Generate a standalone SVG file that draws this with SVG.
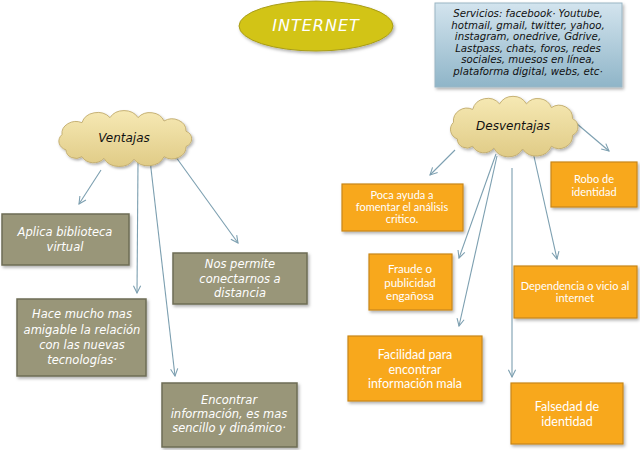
<svg xmlns="http://www.w3.org/2000/svg" width="640" height="450" viewBox="0 0 640 450">
<defs>
<style>
.hand{font-family:"DejaVu Sans","Liberation Sans",sans-serif;font-style:italic;text-anchor:middle}
.gtxt{fill:#ffffff;font-size:11.5px}
.otxt{font-family:Lato,"Liberation Sans",sans-serif;fill:#ffffff;text-anchor:middle}
.gbox{fill:#999679;stroke:#6e6c55;stroke-width:1.5}
.obox{fill:#f8a81e;stroke:#c9861a;stroke-width:1.2}
.conn{stroke:#7c9fb0;stroke-width:1.1;fill:none;marker-end:url(#arr)}
.cloud{fill:url(#cg);stroke:#c2ad6e;stroke-width:1}
</style>
<marker id="arr" viewBox="0 0 10 10" refX="9" refY="5" markerWidth="9" markerHeight="9" orient="auto" markerUnits="userSpaceOnUse">
<path d="M1,1 L9,5 L1,9" fill="none" stroke="#7c9fb0" stroke-width="1.2"/>
</marker>
<linearGradient id="cg" x1="0" y1="0" x2="0" y2="1">
<stop offset="0" stop-color="#f6e9b4"/>
<stop offset="1" stop-color="#e0cb86"/>
</linearGradient>
<linearGradient id="sg" x1="0" y1="0" x2="0" y2="1">
<stop offset="0" stop-color="#d3e4ee"/>
<stop offset="1" stop-color="#8fb5c8"/>
</linearGradient>
<filter id="sh" x="-10%" y="-10%" width="130%" height="130%">
<feDropShadow dx="1.5" dy="2" stdDeviation="1.5" flood-color="#000" flood-opacity="0.3"/>
</filter>
<path id="cloudp" d="M-58,14 A11,11 0 0 1 -62,-4 A14,14 0 0 1 -42,-18 A16,16 0 0 1 -14,-24 A16,16 0 0 1 14,-24 A15,15 0 0 1 40,-20 A14,14 0 0 1 62,-8 A10,10 0 0 1 62,10 A14,14 0 0 1 40,22 A17,17 0 0 1 10,25 A17,17 0 0 1 -20,24 A13,13 0 0 1 -42,22 A10,10 0 0 1 -58,14 Z"/>
</defs>
<rect width="640" height="450" fill="#ffffff"/>

<g id="connectors">
<line class="conn" x1="101" y1="170" x2="79" y2="204"/>
<line class="conn" x1="138" y1="162" x2="137" y2="293"/>
<line class="conn" x1="150" y1="160" x2="175" y2="376"/>
<line class="conn" x1="173" y1="153" x2="238" y2="243"/>
<line class="conn" x1="455" y1="150" x2="430" y2="175"/>
<line class="conn" x1="496" y1="154" x2="459" y2="258"/>
<line class="conn" x1="497" y1="156" x2="459" y2="326"/>
<line class="conn" x1="512" y1="168" x2="512" y2="377"/>
<line class="conn" x1="533" y1="152" x2="557" y2="259"/>
<line class="conn" x1="576" y1="123" x2="609" y2="151"/>
</g>

<g id="internet">
<ellipse cx="316" cy="26" rx="77" ry="25" fill="#d2c413" stroke="#a89c18" stroke-width="1" filter="url(#sh)"/>
<text class="hand" x="316" y="31" fill="#ffffff" font-size="16" letter-spacing="1">INTERNET</text>
</g>

<g id="servicios">
<rect x="435" y="3" width="187" height="84" fill="url(#sg)" stroke="#9ab6c4" stroke-width="1" filter="url(#sh)"/>
<g class="hand" fill="#111111" font-size="10.2">
<text x="528" y="17">Servicios: facebook· Youtube,</text>
<text x="528" y="29">hotmail, gmail, twitter, yahoo,</text>
<text x="528" y="40">instagram, onedrive, Gdrive,</text>
<text x="528" y="51.5">Lastpass, chats, foros, redes</text>
<text x="528" y="63">sociales, muesos en línea,</text>
<text x="528" y="75">plataforma digital,  webs, etc·</text>
</g>
</g>

<g id="ventajas">
<use href="#cloudp" class="cloud" transform="translate(124,138) scale(1,0.85)" vector-effect="non-scaling-stroke" filter="url(#sh)"/>
<text class="hand" x="124" y="142" fill="#111111" font-size="12">Ventajas</text>
</g>

<g id="desventajas">
<use href="#cloudp" class="cloud" transform="translate(513,126) scale(0.96,0.92)" filter="url(#sh)"/>
<text class="hand" x="513" y="130" fill="#111111" font-size="12">Desventajas</text>
</g>

<g id="aplica">
<rect class="gbox" x="2" y="214" width="127" height="51" filter="url(#sh)"/>
<text class="hand gtxt" x="65" y="236">Aplica biblioteca</text>
<text class="hand gtxt" x="65" y="251">virtual</text>
</g>

<g id="nos-permite">
<rect class="gbox" x="173" y="253" width="134" height="51" filter="url(#sh)"/>
<text class="hand gtxt" x="240" y="268">Nos permite</text>
<text class="hand gtxt" x="240" y="283">conectarnos a</text>
<text class="hand gtxt" x="240" y="297">distancia</text>
</g>

<g id="hace-mucho">
<rect class="gbox" x="17" y="299" width="129" height="77" filter="url(#sh)"/>
<text class="hand gtxt" x="82" y="318">Hace mucho mas</text>
<text class="hand gtxt" x="82" y="334">amigable la relación</text>
<text class="hand gtxt" x="82" y="349">con las nuevas</text>
<text class="hand gtxt" x="82" y="364">tecnologías·</text>
</g>

<g id="encontrar">
<rect class="gbox" x="162" y="383" width="135" height="64" filter="url(#sh)"/>
<text class="hand gtxt" x="229" y="404">Encontrar</text>
<text class="hand gtxt" x="229" y="418">información, es mas</text>
<text class="hand gtxt" x="229" y="432">sencillo y dinámico·</text>
</g>

<g id="poca-ayuda">
<rect class="obox" x="342" y="184" width="121" height="47" filter="url(#sh)"/>
<text class="otxt" x="402" y="199" font-size="11">Poca ayuda a</text>
<text class="otxt" x="402" y="211" font-size="11">fomentar el análisis</text>
<text class="otxt" x="402" y="223" font-size="11">critico.</text>
</g>

<g id="fraude">
<rect class="obox" x="369" y="254" width="83" height="56" filter="url(#sh)"/>
<text class="otxt" x="410" y="273" font-size="11.5">Fraude o</text>
<text class="otxt" x="410" y="287" font-size="11.5">publicidad</text>
<text class="otxt" x="410" y="300" font-size="11.5">engañosa</text>
</g>

<g id="facilidad">
<rect class="obox" x="348" y="336" width="134" height="65" filter="url(#sh)"/>
<text class="otxt" x="415" y="359" font-size="12.5">Facilidad para</text>
<text class="otxt" x="415" y="374" font-size="12.5">encontrar</text>
<text class="otxt" x="415" y="388" font-size="12.5">información mala</text>
</g>

<g id="robo">
<rect class="obox" x="551" y="162" width="86" height="45" filter="url(#sh)"/>
<text class="otxt" x="594" y="183" font-size="11">Robo de</text>
<text class="otxt" x="594" y="196" font-size="11">identidad</text>
</g>

<g id="dependencia">
<rect class="obox" x="514" y="266" width="123" height="52" filter="url(#sh)"/>
<text class="otxt" x="575" y="290" font-size="11">Dependencia o vicio al</text>
<text class="otxt" x="575" y="302" font-size="11">internet</text>
</g>

<g id="falsedad">
<rect class="obox" x="511" y="383" width="112" height="61" filter="url(#sh)"/>
<text class="otxt" x="567" y="411" font-size="12.5">Falsedad de</text>
<text class="otxt" x="567" y="426" font-size="12.5">identidad</text>
</g>
</svg>
